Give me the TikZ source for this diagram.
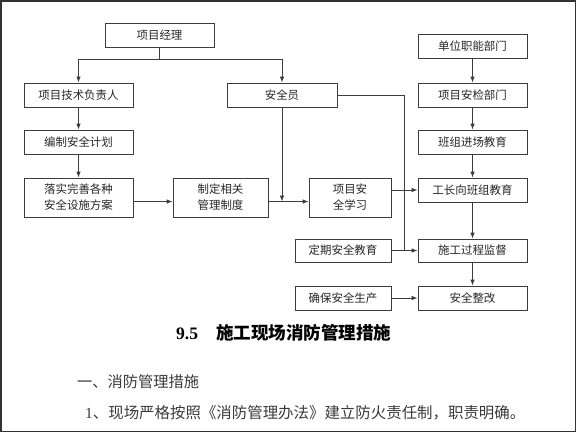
\documentclass[tikz,border=0pt]{standalone}
\usepackage{fontspec}
\usepackage{xcolor}
\usepackage{tikz}
\usetikzlibrary{arrows.meta,positioning}
\setmainfont{Liberation Serif}
\newfontfamily\cjk{Noto Sans CJK SC}
\definecolor{linegray}{HTML}{3C3C3C}
\definecolor{textgray}{HTML}{3A3A3A}

\begin{document}
\begin{tikzpicture}[
  x=1bp, y=-1bp,
  box/.style={draw=linegray, line width=0.8bp, minimum width=109bp, minimum height=24bp,
    inner sep=1bp, align=center, font=\cjk\fontsize{11.5}{16}\selectfont, text=black!85},
  tallbox/.style={box, minimum height=39bp},
  arr/.style={draw=linegray, line width=0.8bp, -{Latex[length=6bp,width=4.5bp]}},
  ln/.style={draw=linegray, line width=0.8bp},
  bodytext/.style={anchor=west, inner sep=0pt, text=textgray}
]
\useasboundingbox (0,0) rectangle (576,432);
\draw[line width=1.5bp, draw=black!80] (0.75,0.75) rectangle (575.25,431.25);

% left part
\node[box] (jingli) at (159.5,35) {项目经理};
\node[box] (jishu) at (78.5,95) {项目技术负责人};
\node[box, minimum width=110bp] (anquanyuan) at (282,95) {安全员};
\node[box] (jihua) at (78.5,142) {编制安全计划};
\node[tallbox] (fangan) at (78.5,197.5) {落实完善各种\\安全设施方案};
\node[tallbox, minimum width=95bp] (zhidu) at (220.5,197.5) {制定相关\\管理制度};
\node[tallbox, minimum width=82bp] (xuexi) at (350,197.5) {项目安\\全学习};

% right column
\node[box] (zhineng) at (472.5,46.5) {单位职能部门};
\node[box] (anjian) at (472.5,95) {项目安检部门};
\node[box] (jinchang) at (472.5,142) {班组进场教育};
\node[box] (gongzhang) at (472.5,190) {工长向班组教育};
\node[box, minimum height=23bp] (jiandu) at (472.5,250.5) {施工过程监督};
\node[box] (zhenggai) at (472.5,298) {安全整改};
\node[box, minimum width=96bp, minimum height=23bp] (dingqi) at (343,250.5) {定期安全教育};
\node[box, minimum width=96bp] (queba) at (343,298) {确保安全生产};

\coordinate (fork) at (159.5,59);
\coordinate (mid) at (282,201.5);
\coordinate (bend) at (404,95);

\draw[ln] (jingli.south) -- (fork);
\draw[arr] (fork) -| (jishu.north);
\draw[arr] (fork) -| (anquanyuan.north);
\draw[arr] (jishu) -- (jihua);
\draw[arr] (jihua) -- (fangan);
\draw[arr] (fangan.east |- mid) -- (zhidu.west |- mid);
\draw[arr] (zhidu.east |- mid) -- (xuexi.west |- mid);
\draw[arr] (anquanyuan.south) -- (mid);
\draw[arr] (xuexi.east |- gongzhang.west) -- (gongzhang.west);
\draw[ln] (anquanyuan.east) -- (bend) -- (bend |- jiandu.west);
\draw[arr] (dingqi.east) -- (jiandu.west);
\draw[arr] (queba.east) -- (zhenggai.west);

\draw[arr] (zhineng) -- (anjian);
\draw[arr] (anjian) -- (jinchang);
\draw[arr] (jinchang) -- (gongzhang);
\draw[arr] (gongzhang) -- (jiandu);
\draw[arr] (jiandu) -- (zhenggai);

% text below
\node[anchor=west, inner sep=0pt, font=\bfseries\fontsize{17.6}{20}\selectfont] (title) at (176,333)
  {9.5\hspace{18bp}{\cjk\bfseries 施工现场消防管理措施}};
\node[bodytext, font=\cjk\fontsize{15.3}{18}\selectfont] (sub) at (77,382) {一、消防管理措施};
\node[bodytext, font=\fontsize{15.5}{18}\selectfont] (item) at (85,413)
  {1{\cjk 、现场严格按照《消防管理办法》建立防火责任制，职责明确。}};
\end{tikzpicture}
\end{document}
